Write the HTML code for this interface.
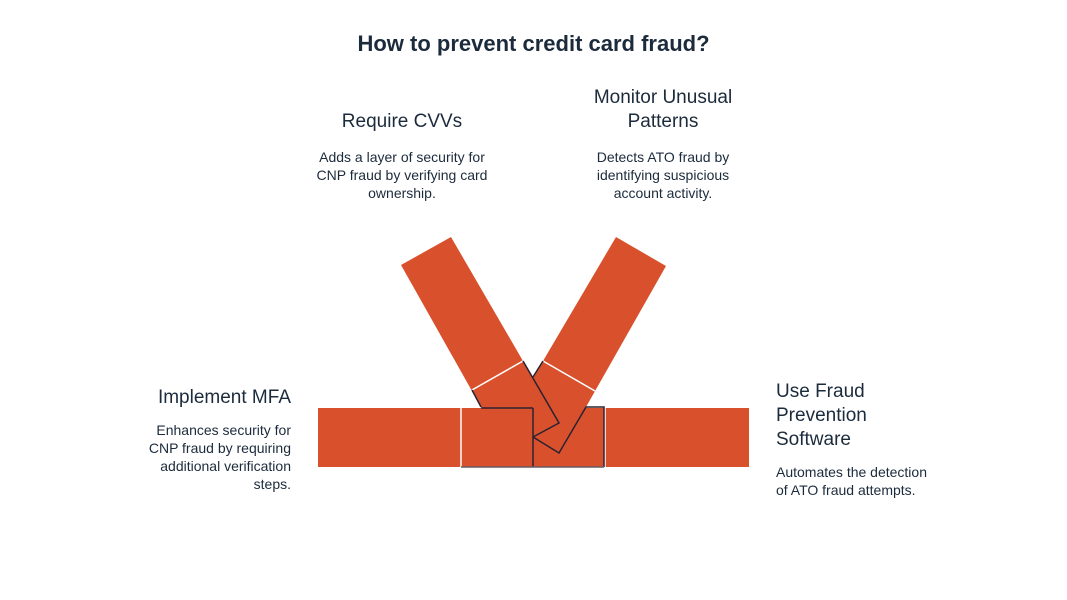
<!DOCTYPE html>
<html><head><meta charset="utf-8"><style>
html,body{margin:0;padding:0;background:#fff;}
body{width:1067px;height:600px;position:relative;overflow:hidden;font-family:"Liberation Sans",sans-serif;color:#1c2b3c;}
.t{position:absolute;white-space:nowrap;}
.h{font-size:19px;line-height:24px;}
.d{font-size:14px;line-height:18px;}
</style></head><body>
<div class="t" style="left:0;width:1067px;top:30px;text-align:center;font-size:22px;font-weight:bold;line-height:28px;">How to prevent credit card fraud?</div>

<div class="t h" style="left:300px;width:204px;top:110px;text-align:center;">Require CVVs</div>
<div class="t d" style="left:300px;width:204px;top:148px;text-align:center;">Adds a layer of security for<br>CNP fraud by verifying card<br>ownership.</div>

<div class="t h" style="left:563px;width:200px;top:86px;text-align:center;">Monitor Unusual<br>Patterns</div>
<div class="t d" style="left:563px;width:200px;top:148px;text-align:center;">Detects ATO fraud by<br>identifying suspicious<br>account activity.</div>

<div class="t h" style="left:100px;width:191px;top:386px;text-align:right;">Implement MFA</div>
<div class="t d" style="left:100px;width:191px;top:421px;text-align:right;">Enhances security for<br>CNP fraud by requiring<br>additional verification<br>steps.</div>

<div class="t h" style="left:776px;top:380px;">Use Fraud<br>Prevention<br>Software</div>
<div class="t d" style="left:776px;top:463px;">Automates the detection<br>of ATO fraud attempts.</div>

<svg width="1067" height="600" style="position:absolute;left:0;top:0">
<g fill="#d9512c">
<rect x="318" y="408" width="431" height="59"/>
<polygon points="401,265 451,237 559,423 533,437 481,407"/>
<polygon points="616,237 666,266 586,407 559,453 533,437 533,377 543,361"/>
</g>
<g stroke="#fff" stroke-width="1.5" fill="none">
<line x1="472" y1="390" x2="523" y2="361"/>
<line x1="543" y1="361" x2="595" y2="391"/>
<line x1="461" y1="408" x2="461" y2="467"/>
<line x1="605" y1="408" x2="605" y2="467"/>
</g>
<g stroke="#2a2230" stroke-width="1.5" fill="none">
<polyline points="523,361 559,423 533,437"/>
<polyline points="543,361 533,377"/>
<polyline points="533,437 559,453 586,407 604,407 604,467"/>
<line x1="481" y1="408" x2="533" y2="408"/>
<line x1="533" y1="408" x2="533" y2="467"/>
<line x1="472" y1="390" x2="481" y2="407"/>
<line x1="461" y1="467" x2="604" y2="467" stroke="#6a5a60"/>
</g>
</svg>
</body></html>
